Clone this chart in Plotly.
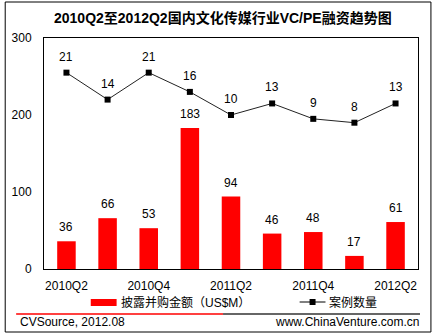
import plotly.graph_objects as go

categories = ["2010Q2", "2010Q3", "2010Q4", "2011Q1", "2011Q2", "2011Q3", "2011Q4", "2012Q1", "2012Q2"]
amounts = [36, 66, 53, 183, 94, 46, 48, 17, 61]
counts = [21, 14, 21, 16, 10, 13, 9, 8, 13]
tick_labels = ["2010Q2", "2010Q4", "2011Q2", "2011Q4", "2012Q2"]
y_ticks = [0, 100, 200, 300]

FONT = "Arial, Liberation Sans, Noto Sans CJK SC, sans-serif"
CJK = "Arial, Noto Sans CJK SC, sans-serif"

# plot area pixels
L, R, T, B = 42, 418, 38, 269
W, H = 434, 335
def px(x):
    return (x - L) / (R - L)
def py(y):
    return (B - y) / (B - T)

fig = go.Figure()
fig.add_trace(go.Bar(x=categories, y=amounts, marker=dict(color="#FF0000", line=dict(width=0)),
                     width=0.45, name="披露并购金额（US$M）", showlegend=False))
fig.add_trace(go.Scatter(x=categories, y=counts, yaxis="y2", mode="lines+markers",
                         line=dict(color="#222222", width=1),
                         marker=dict(symbol="square", size=6, color="#000000"),
                         name="案例数量", showlegend=False))

ann = []
for c, v in zip(categories, amounts):
    ann.append(dict(x=c, y=v, xref="x", yref="y", text=str(v), showarrow=False,
                    yanchor="middle", yshift=14, font=dict(family=FONT, size=12, color="#000")))
for c, v in zip(categories, counts):
    ann.append(dict(x=c, y=v, xref="x", yref="y2", text=str(v), showarrow=False,
                    yanchor="middle", yshift=16, font=dict(family=FONT, size=12, color="#000")))

ann.append(dict(x=px(222), y=py(18), xref="paper", yref="paper", showarrow=False,
                text="<b>2010Q2至2012Q2国内文化传媒行业VC/PE融资趋势图</b>",
                xanchor="center", yanchor="middle", font=dict(family=CJK, size=14, color="#000")))
ann.append(dict(x=px(117), y=py(302), xref="paper", yref="paper", showarrow=False,
                text="披露并购金额（US$M）", xanchor="left", yanchor="middle",
                font=dict(family=CJK, size=12, color="#000")))
ann.append(dict(x=px(327), y=py(302), xref="paper", yref="paper", showarrow=False,
                text="案例数量", xanchor="left", yanchor="middle",
                font=dict(family=CJK, size=12, color="#000")))
ann.append(dict(x=px(16), y=py(322), xref="paper", yref="paper", showarrow=False,
                text="CVSource, 2012.08", xanchor="left", yanchor="middle",
                font=dict(family=FONT, size=12, color="#000")))
ann.append(dict(x=px(421), y=py(322), xref="paper", yref="paper", showarrow=False,
                text="www.ChinaVenture.com.cn", xanchor="right", yanchor="middle",
                font=dict(family=FONT, size=12, color="#000")))

shapes = [
    dict(type="rect", xref="paper", yref="paper", x0=px(3), x1=px(431), y0=py(332), y1=py(2),
         line=dict(color="#000", width=1)),
    dict(type="line", xref="paper", yref="paper", x0=px(14), x1=px(222), y0=py(314), y1=py(314),
         line=dict(color="#FF0000", width=1.5)),
    dict(type="line", xref="paper", yref="paper", x0=px(222), x1=px(420), y0=py(314), y1=py(314),
         line=dict(color="#333333", width=1.5)),
    dict(type="rect", xref="paper", yref="paper", x0=px(89), x1=px(115), y0=py(306), y1=py(299),
         fillcolor="#FF0000", line=dict(width=0)),
    dict(type="line", xref="paper", yref="paper", x0=px(299), x1=px(325), y0=py(302), y1=py(302),
         line=dict(color="#000", width=1)),
    dict(type="rect", xref="paper", yref="paper", x0=px(309), x1=px(315), y0=py(305), y1=py(299),
         fillcolor="#000", line=dict(width=0)),
]

fig.update_layout(
    width=W, height=H,
    margin=dict(l=L, r=W - R, t=T, b=H - B),
    paper_bgcolor="white", plot_bgcolor="white",
    showlegend=False,
    bargap=0.55,
    xaxis=dict(type="category", categoryorder="array", categoryarray=categories,
               tickmode="array", tickvals=tick_labels, ticktext=tick_labels,
               showline=True, linecolor="#000", linewidth=1, mirror=True,
               showgrid=False, ticks="", ticklabelstandoff=6,
               tickfont=dict(family=FONT, size=12, color="#000")),
    yaxis=dict(range=[0, 300], tickvals=y_ticks, showline=True, linecolor="#000", linewidth=1,
               mirror=True, showgrid=False, zeroline=False, ticks="", ticklabelstandoff=9,
               tickfont=dict(family=FONT, size=12, color="#000")),
    yaxis2=dict(range=[-30, 30], overlaying="y", side="right", visible=False, showgrid=False),
    annotations=ann, shapes=shapes,
)

fig.write_html("out.html")
